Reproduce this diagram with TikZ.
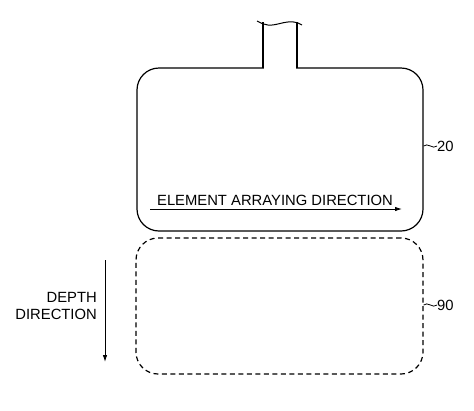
\documentclass[tikz,border=0pt]{standalone}
\usepackage{fontspec}
\setmainfont{Liberation Sans}
\usetikzlibrary{arrows.meta}

\tikzset{
  box/.style={draw, line width=1.2pt, rounded corners=22pt, inner sep=0pt},
  dir/.style={-{Latex[length=7pt,width=4.5pt]}, line width=0.9pt},
  txt/.style={font=\fontsize{14.8}{16.5}\selectfont, inner sep=0pt}
}

\begin{document}
\begin{tikzpicture}[x=1pt, y=-1pt]
      \useasboundingbox (0,0) rectangle (474,410);

      % Boxes
      \node[box, minimum width=286pt, minimum height=163pt] (probe) at (280,149.5) {};
      \node[box, dashed, dash pattern=on 5pt off 3.5pt, minimum width=287pt, minimum height=136pt] (subject) at (279.5,306) {};

      % Stem on top of the probe
      \fill[white] (263.6,60) rectangle (296.4,75);
      \coordinate (s1) at (263,68);
      \coordinate (s2) at (297,68);
      \draw[line width=1.2pt] (s1) -- (263,22);
      \draw[line width=1.2pt] (s2) -- (297,22);
      \draw[line width=1pt] (257,21) .. controls (266,26) and (270,26) .. (280,23.5)
        .. controls (290,21) and (296,21) .. (302,25);

      % Labels
      \node[txt, anchor=west] (l20) at (437,146) {20};
      \node[txt, anchor=west] (l90) at (437,305) {90};
      \draw[line width=0.8pt] (probe.east |- l20) .. controls +(4,-4) and +(-4,4) .. (l20.west);
      \draw[line width=0.8pt] (subject.east |- l90) .. controls +(4,-4) and +(-4,4) .. (l90.west);

      % Element arraying direction
      \coordinate (e1) at (150,209);
      \coordinate (e2) at (402,209);
      \draw[dir] (e1) -- (e2);
      \node[txt] (etxt) at (275,200) {ELEMENT ARRAYING DIRECTION};

      % Depth direction
      \coordinate (d1) at (105,260);
      \coordinate (d2) at (105,362);
      \draw[dir] (d1) -- (d2);
      \node[txt, align=right, anchor=east] (dtxt) at (97,306) {DEPTH\\DIRECTION};
\end{tikzpicture}
\end{document}
